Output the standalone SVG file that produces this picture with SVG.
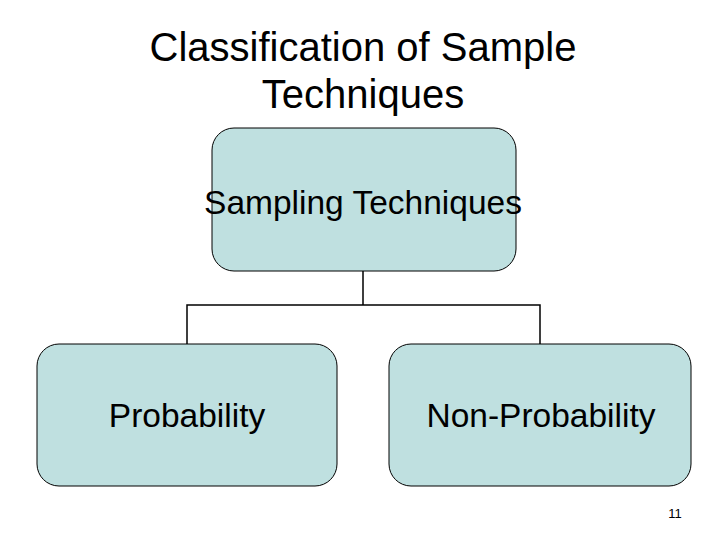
<svg xmlns="http://www.w3.org/2000/svg" width="728" height="546" viewBox="0 0 728 546">
<style>
.box{fill:#bfe0e0;stroke:#000;stroke-width:1}
.t{font-family:"Liberation Sans",Arial,sans-serif;fill:#000}
.c{fill:none;stroke:#000;stroke-width:1.5}
</style>
<rect width="728" height="546" fill="#fff"/>
<text class="t" x="363" y="61" font-size="40" text-anchor="middle" fill="#222">Classification of Sample</text>
<text class="t" x="363" y="108" font-size="40" text-anchor="middle" fill="#222">Techniques</text>
<g id="connectors">
<path class="c" d="M363 271V305M187 344V305H540V344"/>
</g>
<g id="n1"><rect class="box" x="212" y="128" width="304" height="143" rx="22"/>
<text class="t" x="363" y="214" font-size="33.5" text-anchor="middle">Sampling Techniques</text></g>
<g id="n2"><rect class="box" x="37" y="344" width="300" height="142" rx="22"/>
<text class="t" x="187" y="427" font-size="33.5" text-anchor="middle">Probability</text></g>
<g id="n3"><rect class="box" x="389" y="344" width="302" height="142" rx="22"/>
<text class="t" x="541" y="427" font-size="33.5" text-anchor="middle">Non-Probability</text></g>
<text class="t" x="675" y="518" font-size="13" text-anchor="middle">11</text>
</svg>
